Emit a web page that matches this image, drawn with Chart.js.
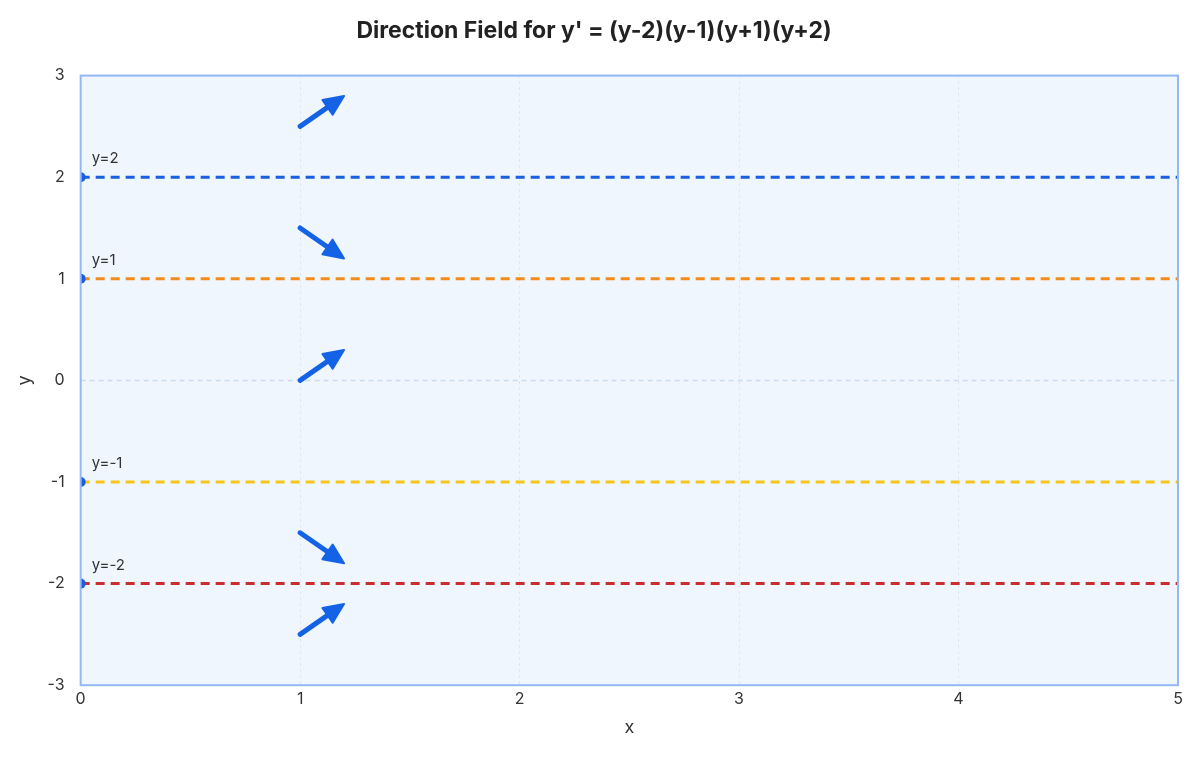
<!DOCTYPE html>
<html><head><meta charset="utf-8">
<script src="https://cdn.jsdelivr.net/npm/chart.js@4"></script>
<style>html,body{margin:0;background:#fff}#w{width:1200px;height:760px}</style>
</head><body><div id="w"><canvas id="c"></canvas></div>
<script>
const eqValues = [2, 1, 0, -1, -2];
const eqLabels = ['y=2', 'y=1', '', 'y=-1', 'y=-2'];
const eqColors = ['#1a5fe0', '#f28c1b', '#c9d9ee', '#f5c518', '#c62f2f'];
const arrowStartX = [1, 1, 1, 1, 1];
const arrowStartY = [2.5, 1.5, 0, -1.5, -2.5];
const arrowEndX = [1.2, 1.2, 1.2, 1.2, 1.2];
const arrowEndY = [2.8, 1.2, 0.3, -1.8, -2.2];
const xTicks = [0, 1, 2, 3, 4, 5];
const yTicks = [-3, -2, -1, 0, 1, 2, 3];

const datasets = [];
eqValues.forEach((v, i) => {
  datasets.push({
    data: [{x: 0, y: v}, {x: 5, y: v}],
    borderColor: eqColors[i], borderWidth: i === 2 ? 1.5 : 3, borderDash: i === 2 ? [5, 4] : [9, 6],
    pointRadius: i === 2 ? [0, 0] : [5, 0], pointBackgroundColor: '#1a5fe0', pointBorderWidth: 0,
    showLine: true, fill: false, eqLabel: eqLabels[i]
  });
});
arrowStartX.forEach((x, i) => {
  datasets.push({
    data: [{x: x, y: arrowStartY[i]}, {x: arrowEndX[i], y: arrowEndY[i]}],
    borderColor: 'rgba(0,0,0,0)', borderWidth: 0, pointRadius: 0,
    showLine: true, fill: false, arrow: true, arrowColor: '#1463e6'
  });
});

const plug = {
  id: 'extra',
  beforeDraw(ch) {
    const a = ch.chartArea, c = ch.ctx;
    c.save(); c.fillStyle = '#f0f6fe'; c.fillRect(a.left, a.top, a.width, a.height); c.restore();
  },
  afterDatasetsDraw(ch) {
    const c = ch.ctx, xs = ch.scales.x, ys = ch.scales.y;
    ch.data.datasets.forEach(ds => {
      if (ds.arrow) {
        const p0 = ds.data[0], p1 = ds.data[1];
        const x0 = xs.getPixelForValue(p0.x), y0 = ys.getPixelForValue(p0.y);
        const x1 = xs.getPixelForValue(p1.x), y1 = ys.getPixelForValue(p1.y);
        const ang = Math.atan2(y1 - y0, x1 - x0), L = 22, W = 0.42;
        c.save(); c.strokeStyle = ds.arrowColor; c.fillStyle = ds.arrowColor;
        c.lineWidth = 5; c.lineCap = 'round';
        c.beginPath(); c.moveTo(x0, y0);
        c.lineTo(x1 - 14 * Math.cos(ang), y1 - 14 * Math.sin(ang)); c.stroke();
        c.lineJoin = 'round'; c.lineWidth = 2;
        c.beginPath();
        c.moveTo(x1, y1);
        c.lineTo(x1 - L * Math.cos(ang - W), y1 - L * Math.sin(ang - W));
        c.lineTo(x1 - L * Math.cos(ang + W), y1 - L * Math.sin(ang + W));
        c.closePath(); c.fill(); c.stroke(); c.restore();
      }
      if (ds.eqLabel) {
        c.save(); c.fillStyle = '#333'; c.font = '15px Inter'; c.textBaseline = 'bottom';
        c.fillText(ds.eqLabel, xs.getPixelForValue(0.05), ys.getPixelForValue(ds.data[0].y) - 11);
        c.restore();
      }
    });
    const a = ch.chartArea;
    c.save(); c.strokeStyle = '#93b8f5'; c.lineWidth = 2; c.strokeRect(a.left, a.top, a.width, a.height); c.restore();
  }
};

new Chart(document.getElementById('c'), {
  type: 'scatter',
  data: {datasets},
  plugins: [plug],
  options: {
    responsive: true, maintainAspectRatio: false, animation: false,
    layout: {padding: {left: 10, right: 22, top: 0, bottom: 18}},
    plugins: {
      legend: {display: false}, tooltip: {enabled: false},
      title: {display: true, text: "Direction Field for y' = (y-2)(y-1)(y+1)(y+2)", color: '#222',
        font: {family: 'Inter', size: 23, weight: 'bold'}, padding: {top: 17, bottom: 31}}
    },
    scales: {
      x: {type: 'linear', min: 0, max: 5, afterBuildTicks: s => { s.ticks = xTicks.map(v => ({value: v})); },
        grid: {color: 'rgba(180,195,220,0.4)', drawTicks: false},
        border: {display: false, dash: [2, 4]},
        ticks: {color: '#333', font: {family: 'Inter', size: 16}, padding: 4},
        title: {display: true, text: 'x', color: '#333', font: {family: 'Inter', size: 18}}},
      y: {type: 'linear', min: -3, max: 3, afterBuildTicks: s => { s.ticks = yTicks.map(v => ({value: v})); },
        grid: {display: false}, border: {display: false},
        ticks: {color: '#333', font: {family: 'Inter', size: 16}, padding: 8},
        title: {display: true, text: 'y', color: '#333', font: {family: 'Inter', size: 18}}}
    }
  }
});
</script></body></html>
